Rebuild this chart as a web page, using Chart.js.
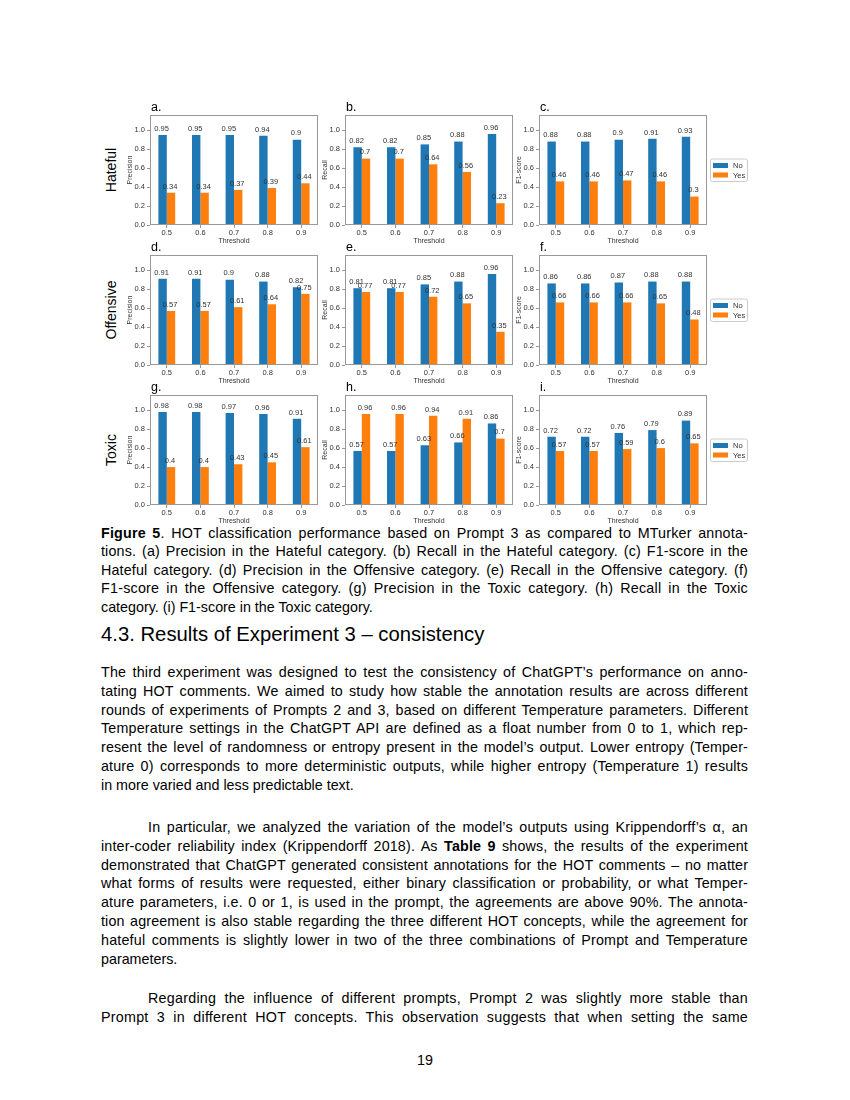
<!DOCTYPE html>
<html>
<head>
<meta charset="utf-8">
<script src="https://cdn.jsdelivr.net/npm/chart.js@4.4.0/dist/chart.umd.min.js"></script>
<style>
  body { margin: 0; width: 850px; height: 1100px; background: #fff; position: relative; overflow: hidden;
         font-family: "Liberation Sans", Arial, sans-serif; color: #000; }
  canvas { position: absolute; }
  .rowlab { position: absolute; font-size: 14px; white-space: nowrap; transform: translate(-50%, -50%) rotate(-90deg); }
  .block { position: absolute; left: 101px; width: 647px; font-size: 14.3px; }
  .ln { white-space: nowrap; }
  .cap .ln { height: 18.4px; line-height: 18.4px; }
  .body .ln { height: 18.8px; line-height: 18.8px; }
  .ind { padding-left: 47px; }
  h2 { position: absolute; left: 101px; top: 622px; margin: 0; font-size: 20.3px; font-weight: normal; line-height: 24px; }
  .pageno { position: absolute; left: 0; width: 850px; top: 1051px; text-align: center; font-size: 14.3px; line-height: 18px; }
</style>
</head>
<body>

<div class="rowlab" style="left:111px;top:170px">Hateful</div>
<div class="rowlab" style="left:111px;top:310px">Offensive</div>
<div class="rowlab" style="left:111px;top:450px">Toxic</div>

<div class="block cap" style="top:524px">
  <div class="ln j"><span><b>Figure 5</b>. HOT classification performance based on Prompt 3 as compared to MTurker annota-</span></div>
  <div class="ln j"><span>tions. (a) Precision in the Hateful category. (b) Recall in the Hateful category. (c) F1-score in the</span></div>
  <div class="ln j"><span>Hateful category. (d) Precision in the Offensive category. (e) Recall in the Offensive category. (f)</span></div>
  <div class="ln j"><span>F1-score in the Offensive category. (g) Precision in the Toxic category. (h) Recall in the Toxic</span></div>
  <div class="ln"><span>category. (i) F1-score in the Toxic category.</span></div>
</div>

<h2>4.3. Results of Experiment 3 – consistency</h2>

<div class="block body" style="top:663px">
  <div class="ln j"><span>The third experiment was designed to test the consistency of ChatGPT’s performance on anno-</span></div>
  <div class="ln j"><span>tating HOT comments. We aimed to study how stable the annotation results are across different</span></div>
  <div class="ln j"><span>rounds of experiments of Prompts 2 and 3, based on different Temperature parameters. Different</span></div>
  <div class="ln j"><span>Temperature settings in the ChatGPT API are defined as a float number from 0 to 1, which rep-</span></div>
  <div class="ln j"><span>resent the level of randomness or entropy present in the model’s output. Lower entropy (Temper-</span></div>
  <div class="ln j"><span>ature 0) corresponds to more deterministic outputs, while higher entropy (Temperature 1) results</span></div>
  <div class="ln"><span>in more varied and less predictable text.</span></div>
</div>

<div class="block body" style="top:818px">
  <div class="ln j ind"><span>In particular, we analyzed the variation of the model’s outputs using Krippendorff’s α, an</span></div>
  <div class="ln j"><span>inter-coder reliability index (Krippendorff 2018). As <b>Table 9</b> shows, the results of the experiment</span></div>
  <div class="ln j"><span>demonstrated that ChatGPT generated consistent annotations for the HOT comments – no matter</span></div>
  <div class="ln j"><span>what forms of results were requested, either binary classification or probability, or what Temper-</span></div>
  <div class="ln j"><span>ature parameters, i.e. 0 or 1, is used in the prompt, the agreements are above 90%. The annota-</span></div>
  <div class="ln j"><span>tion agreement is also stable regarding the three different HOT concepts, while the agreement for</span></div>
  <div class="ln j"><span>hateful comments is slightly lower in two of the three combinations of Prompt and Temperature</span></div>
  <div class="ln"><span>parameters.</span></div>
</div>

<div class="block body" style="top:989px">
  <div class="ln j ind"><span>Regarding the influence of different prompts, Prompt 2 was slightly more stable than</span></div>
  <div class="ln j"><span>Prompt 3 in different HOT concepts. This observation suggests that when setting the same</span></div>
</div>

<div class="pageno">19</div>

<script>
// data
const thresholds = ['0.5', '0.6', '0.7', '0.8', '0.9'];
const seriesNames = ['No', 'Yes'];

const hatefulPrecisionNo  = [0.95, 0.95, 0.95, 0.94, 0.9];
const hatefulPrecisionYes = [0.34, 0.34, 0.37, 0.39, 0.44];
const hatefulRecallNo     = [0.82, 0.82, 0.85, 0.88, 0.96];
const hatefulRecallYes    = [0.7, 0.7, 0.64, 0.56, 0.23];
const hatefulF1No         = [0.88, 0.88, 0.9, 0.91, 0.93];
const hatefulF1Yes        = [0.46, 0.46, 0.47, 0.46, 0.3];

const offensivePrecisionNo  = [0.91, 0.91, 0.9, 0.88, 0.82];
const offensivePrecisionYes = [0.57, 0.57, 0.61, 0.64, 0.75];
const offensiveRecallNo     = [0.81, 0.81, 0.85, 0.88, 0.96];
const offensiveRecallYes    = [0.77, 0.77, 0.72, 0.65, 0.35];
const offensiveF1No         = [0.86, 0.86, 0.87, 0.88, 0.88];
const offensiveF1Yes        = [0.66, 0.66, 0.66, 0.65, 0.48];

const toxicPrecisionNo  = [0.98, 0.98, 0.97, 0.96, 0.91];
const toxicPrecisionYes = [0.4, 0.4, 0.43, 0.45, 0.61];
const toxicRecallNo     = [0.57, 0.57, 0.63, 0.66, 0.86];
const toxicRecallYes    = [0.96, 0.96, 0.94, 0.91, 0.7];
const toxicF1No         = [0.72, 0.72, 0.76, 0.79, 0.89];
const toxicF1Yes        = [0.57, 0.57, 0.59, 0.6, 0.65];

const colNo = '#1f77b4', colYes = '#ff7f0e';
const textCol = '#333';
const frameCol = '#999';

// subplot geometry (plot area of each panel)
const colLeft = [150, 345, 539];
const rowTop = [115, 255, 395];
const PW = 168, PH = 110;
const YW = 24, XH = 20, TOPPAD = 18;

const panels = [
  ['a.', 'Precision', hatefulPrecisionNo, hatefulPrecisionYes],
  ['b.', 'Recall', hatefulRecallNo, hatefulRecallYes],
  ['c.', 'F1-score', hatefulF1No, hatefulF1Yes],
  ['d.', 'Precision', offensivePrecisionNo, offensivePrecisionYes],
  ['e.', 'Recall', offensiveRecallNo, offensiveRecallYes],
  ['f.', 'F1-score', offensiveF1No, offensiveF1Yes],
  ['g.', 'Precision', toxicPrecisionNo, toxicPrecisionYes],
  ['h.', 'Recall', toxicRecallNo, toxicRecallYes],
  ['i.', 'F1-score', toxicF1No, toxicF1Yes]
];

const FONT = '"Liberation Sans", Arial, sans-serif';
Chart.defaults.font.family = FONT;

// frame, bar value labels, panel letter and boxed legend
const panelDeco = {
  id: 'panelDeco',
  afterDraw(chart, args, opts) {
    const ctx = chart.ctx;
    const a = chart.chartArea;
    ctx.save();
    ctx.strokeStyle = frameCol;
    ctx.lineWidth = 1;
    ctx.strokeRect(Math.round(a.left) + 0.5, Math.round(a.top) + 0.5,
                   Math.round(a.right - a.left) - 1, Math.round(a.bottom - a.top) - 1);

    ctx.font = '7.5px ' + FONT;
    ctx.fillStyle = textCol;
    ctx.textAlign = 'center';
    ctx.textBaseline = 'bottom';
    chart.data.datasets.forEach((ds, i) => {
      chart.getDatasetMeta(i).data.forEach((bar, j) => {
        ctx.fillText(String(ds.data[j]), bar.x - 1, bar.y - 2.5);
      });
    });

    ctx.font = '12.5px ' + FONT;
    ctx.fillStyle = '#000';
    ctx.textAlign = 'left';
    ctx.textBaseline = 'alphabetic';
    ctx.fillText(opts.letter, a.left + 1, a.top - 4);

    if (opts.legend) {
      const x0 = a.right + 3.5, cy = (a.top + a.bottom) / 2;
      ctx.strokeStyle = '#ccc';
      ctx.beginPath();
      ctx.roundRect(x0, cy - 11, 37, 22.5, 2);
      ctx.stroke();
      ctx.font = '7.5px ' + FONT;
      ctx.textBaseline = 'middle';
      chart.data.datasets.forEach((ds, i) => {
        const y = cy - 4.5 + i * 9.5;
        ctx.fillStyle = ds.backgroundColor;
        ctx.fillRect(x0 + 2.5, y - 2.5, 15, 5);
        ctx.fillStyle = textCol;
        ctx.fillText(ds.label, x0 + 22.5, y + 0.5);
      });
    }
    ctx.restore();
  }
};

panels.forEach((p, k) => {
  const col = k % 3, row = Math.floor(k / 3);
  const withLegend = col === 2;
  const padR = withLegend ? 46 : 4;
  const cw = YW + PW + padR, ch = TOPPAD + PH + XH + 2;
  const cv = document.createElement('canvas');
  cv.width = cw;
  cv.height = ch;
  cv.style.left = (colLeft[col] - YW) + 'px';
  cv.style.top = (rowTop[row] - TOPPAD) + 'px';
  cv.style.width = cw + 'px';
  cv.style.height = ch + 'px';
  document.body.appendChild(cv);

  new Chart(cv, {
    type: 'bar',
    data: {
      labels: thresholds,
      datasets: [
        { label: seriesNames[0], data: p[2], backgroundColor: colNo },
        { label: seriesNames[1], data: p[3], backgroundColor: colYes }
      ]
    },
    options: {
      responsive: false,
      animation: false,
      devicePixelRatio: 1,
      events: [],
      categoryPercentage: 0.5,
      barPercentage: 1.0,
      layout: { padding: { top: TOPPAD, right: padR, left: 0, bottom: 2 } },
      plugins: {
        legend: { display: false },
        tooltip: { enabled: false },
        panelDeco: { letter: p[0], legend: withLegend }
      },
      scales: {
        x: {
          grid: { display: true, offset: false, drawOnChartArea: false, tickLength: 3, color: frameCol },
          border: { display: false },
          ticks: { font: { size: 7.5 }, color: textCol, padding: 0, maxRotation: 0 },
          title: { display: true, text: 'Threshold', font: { size: 7 }, color: textCol, padding: 0 },
          afterFit: s => { s.height = XH; }
        },
        y: {
          min: 0,
          max: 1.16,
          grid: { display: true, drawOnChartArea: false, tickLength: 3, color: frameCol },
          border: { display: false },
          ticks: {
            stepSize: 0.2,
            includeBounds: false,
            font: { size: 7.5 },
            color: textCol,
            padding: 2,
            callback: v => v.toFixed(1)
          },
          title: { display: true, text: p[1], font: { size: 7 }, color: textCol, padding: 0 },
          afterFit: s => { s.width = YW; }
        }
      }
    },
    plugins: [panelDeco]
  });
});

// justify each printed line to the column width (a little letter spacing, the rest between words)
document.querySelectorAll('.ln.j').forEach(el => {
  const span = el.firstElementChild;
  const avail = el.clientWidth - parseFloat(getComputedStyle(el).paddingLeft);
  const txt = span.textContent;
  const gaps = (txt.match(/ /g) || []).length;
  let extra = avail - span.getBoundingClientRect().width;
  if (extra > 0) {
    const ls = Math.min(extra * 0.35 / txt.length, 0.25);
    span.style.letterSpacing = ls + 'px';
    extra = avail - span.getBoundingClientRect().width;
  }
  if (gaps > 0) span.style.wordSpacing = (extra / gaps) + 'px';
});
</script>
</body>
</html>
